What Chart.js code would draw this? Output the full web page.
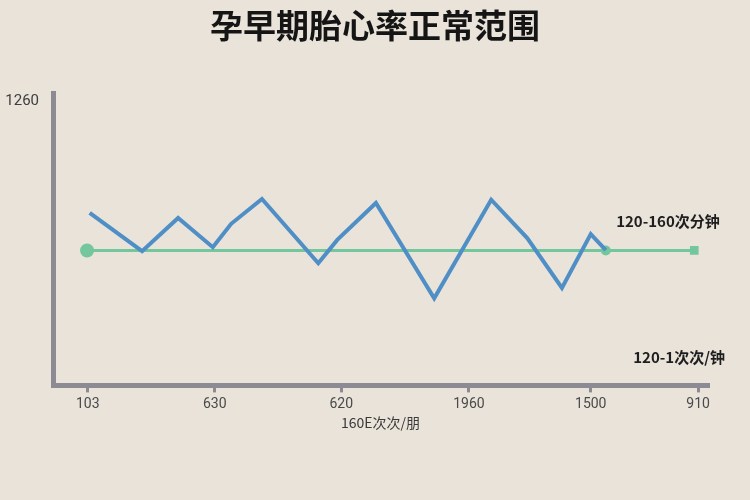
<!DOCTYPE html>
<html>
<head>
<meta charset="utf-8">
<script src="https://cdn.jsdelivr.net/npm/chart.js@4"></script>
<style>
  html, body { margin: 0; padding: 0; background: #e9e3da; }
  #wrap { width: 750px; height: 500px; }
</style>
</head>
<body>
<div id="wrap"><canvas id="graf"></canvas></div>
<script>
// fetal heart rate, early pregnancy
const rateX = [5.6, 13.6, 19.1, 24.4, 27.2, 31.9, 40.5, 43.4, 49.3, 58.2, 66.9, 72.4, 77.7, 82.1, 84.4];
const rateY = [147.3, 136.8, 145.9, 137.9, 144.3, 151.1, 133.5, 139.9, 150.0, 123.9, 150.9, 140.4, 126.7, 141.5, 137.1];

const normalX = [5.2, 84.4, 97.9];
const normalY = [137, 137, 137];

const xTickValues = [5.3, 24.7, 44.0, 63.5, 82.1, 98.5];
const xTickLabels = ['103', '630', '620', '1960', '1500', '910'];
const yTickValues = [180];
const yTickLabels = ['1260'];

const notes = [
    {text: '120-160次分钟', x: 101.8, y: 145.1},
    {text: '120-1次次/钟', x: 102.6, y: 107.7}
];

const axisGray = '#8c8b93';

const notePlugin = {
    id: 'notes',
    afterLayout(chart) {
        // centre the title on the whole canvas, not on the padded box
        if (chart.titleBlock) {
            chart.titleBlock.left = 0;
            chart.titleBlock.right = chart.width;
        }
    },
    afterDatasetsDraw(chart) {
        const ctx = chart.ctx;
        const xs = chart.scales.x, ys = chart.scales.y;
        ctx.save();
        ctx.font = 'bold 15px "Noto Sans CJK SC", sans-serif';
        ctx.fillStyle = '#1e1e1e';
        ctx.textAlign = 'right';
        ctx.textBaseline = 'middle';
        notes.forEach(n => {
            ctx.fillText(n.text, xs.getPixelForValue(n.x), ys.getPixelForValue(n.y));
        });
        ctx.restore();
    }
};

new Chart('graf', {
    type: 'line',
    data: {
        datasets: [{
            data: rateX.map((x, i) => ({x: x, y: rateY[i]})),
            borderColor: '#4f8fc6',
            borderWidth: 4,
            pointRadius: 0,
            lineTension: 0,
            fill: false
        }, {
            data: normalX.map((x, i) => ({x: x, y: normalY[i]})),
            borderColor: '#74c69d',
            backgroundColor: '#74c69d',
            borderWidth: 3,
            pointRadius: [5.5, 3.5, 4],
            pointStyle: ['circle', 'circle', 'rect'],
            lineTension: 0,
            fill: false
        }]
    },
    options: {
        responsive: true,
        maintainAspectRatio: false,
        animation: false,
        layout: {padding: {right: 42, bottom: 69}},
        plugins: {
            legend: {display: false},
            tooltip: {enabled: false},
            title: {
                display: true,
                text: '孕早期胎心率正常范围',
                color: '#151515',
                font: {size: 33, weight: 'bold', family: '"Noto Sans CJK SC", sans-serif'},
                padding: {top: 6, bottom: 48}
            }
        },
        scales: {
            x: {
                type: 'linear',
                min: 0,
                max: 100,
                afterBuildTicks: s => { s.ticks = xTickValues.map(v => ({value: v})); },
                afterFit: s => { s.paddingRight = 0; s.paddingLeft = 0; },
                ticks: {
                    callback: (v, i) => xTickLabels[i],
                    color: '#4a4a4a',
                    font: {size: 14, family: 'Roboto, sans-serif'},
                    padding: 4,
                    maxRotation: 0,
                    autoSkip: false
                },
                grid: {drawOnChartArea: false, color: axisGray, lineWidth: 3, tickLength: 7},
                border: {display: true, color: axisGray, width: 5},
                title: {
                    display: true,
                    text: '160E次次/朋',
                    color: '#3a3a3a',
                    font: {size: 14, family: '"Noto Sans CJK SC", sans-serif'},
                    padding: {top: -3, bottom: 0}
                }
            },
            y: {
                type: 'linear',
                min: 100,
                max: 180,
                afterBuildTicks: s => { s.ticks = yTickValues.map(v => ({value: v})); },
                afterFit: s => { s.width = 53; },
                ticks: {
                    callback: (v, i) => yTickLabels[i],
                    color: '#3e3e3e',
                    font: {size: 15, family: 'Roboto, sans-serif'},
                    padding: 14,
                    labelOffset: 8
                },
                grid: {drawOnChartArea: false, drawTicks: false},
                border: {display: true, color: axisGray, width: 5}
            }
        }
    },
    plugins: [notePlugin]
});
</script>
</body>
</html>
